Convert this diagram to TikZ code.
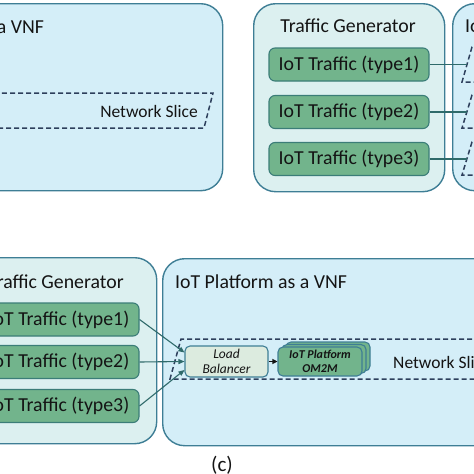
\documentclass[tikz,border=0pt]{standalone}
\usepackage{fontspec}
\setmainfont{Carlito}
\usetikzlibrary{arrows.meta}
\definecolor{vnf}{HTML}{D4EEF8}
\definecolor{tg}{HTML}{DCF0F0}
\definecolor{pborder}{HTML}{3E7E95}
\definecolor{itfill}{HTML}{72B48C}
\definecolor{itborder}{HTML}{3B7D78}
\definecolor{lbfill}{HTML}{DCEBDF}
\definecolor{slicec}{HTML}{2D3F5C}
\definecolor{conn}{HTML}{2F6A6A}
\definecolor{txt}{HTML}{141414}
\begin{document}
\begin{tikzpicture}[x=1pt,y=-1pt,
  panel/.style={draw=pborder, line width=1.4pt, rounded corners=22pt, inner sep=0pt, anchor=north west},
  ptitle/.style={font=\fontsize{19.8}{22}\selectfont, text=txt, inner sep=0pt},
  itbox/.style={draw=itborder, fill=itfill, line width=1.1pt, rounded corners=6pt, minimum width=160pt, minimum height=33pt, inner sep=0pt, font=\fontsize{19.8}{22}\selectfont, text=txt},
  slice/.style={draw=slicec, line width=1.5pt, dash pattern=on 5pt off 3pt},
  slicetext/.style={font=\fontsize{17.5}{20}\selectfont, text=txt, inner sep=0pt},
  line/.style={draw=conn, line width=1.1pt},
  arr/.style={draw=conn, line width=1.1pt, -{Triangle[length=6pt,width=5pt]}},
  lbbox/.style={draw=pborder, fill=lbfill, line width=1.1pt, rounded corners=5pt, minimum width=83pt, minimum height=31pt, inner sep=0pt, align=center, font=\fontsize{13.5}{15}\selectfont\itshape, text=txt},
  ombox/.style={draw=pborder, fill=itfill, line width=1.1pt, rounded corners=5pt, minimum width=84pt, minimum height=29pt, inner sep=0pt, align=center, font=\fontsize{12}{13.5}\selectfont\bfseries\itshape, text=txt}
]
\useasboundingbox (0,0) rectangle (474,474);
\clip (0,0) rectangle (474,474);

% ---------- top row ----------
% left panel (IoT Platform as a VNF)
\node[panel, fill=vnf, minimum width=358pt, minimum height=187pt] (vnfA) at (-136,3) {};
\node[ptitle, anchor=west] (vnfAt) at (-128,27) {IoT Platform as a VNF};
\draw[slice] (-150,93) -- (213,93) -- (204,128) -- (-150,128);
\node[slicetext, anchor=east] (sliceAt) at (198,111) {Network Slice};

% traffic generator panel
\node[panel, fill=tg, minimum width=191pt, minimum height=188pt] (tgB) at (253,3) {};
\node[ptitle] (tgBt) at (348,26) {Traffic Generator};
\node[itbox] (tb1) at (349,64.5) {IoT Traffic (type1)};
\node[itbox] (tb2) at (349,112) {IoT Traffic (type2)};
\node[itbox] (tb3) at (349,159) {IoT Traffic (type3)};

% right panel (partial)
\node[panel, fill=vnf, minimum width=358pt, minimum height=187pt] (vnfC) at (452,3) {};
\node[ptitle, anchor=west] (vnfCt) at (465,26) {IoT Platform as a VNF};
\foreach \t/\b in {47/82, 95/128, 142/175}{
  \draw[slice] (520,\t) -- (472,\t) -- (462,\b) -- (520,\b);
}
\coordinate (c1) at (467,64.5);
\coordinate (c2) at (467,112);
\coordinate (c3) at (467,159);
\draw[line] (tb1.east) -- (c1);
\draw[line] (tb2.east) -- (c2);
\draw[line] (tb3.east) -- (c3);

% ---------- bottom row ----------
\node[panel, fill=tg, minimum width=191pt, minimum height=186pt] (tgD) at (-35,257) {};
\node[ptitle] (tgDt) at (56,282) {Traffic Generator};
\node[itbox] (td1) at (59,319.5) {IoT Traffic (type1)};
\node[itbox] (td2) at (59,362) {IoT Traffic (type2)};
\node[itbox] (td3) at (59,406) {IoT Traffic (type3)};

\node[panel, fill=vnf, minimum width=358pt, minimum height=187pt] (vnfE) at (162,258) {};
\node[ptitle, anchor=west] (vnfEt) at (175,282) {IoT Platform as a VNF};
\draw[slice] (520,339) -- (181,339) -- (170,379) -- (520,379);
\node[slicetext, anchor=west] (sliceEt) at (393,362) {Network Slice};

\node[lbbox] (lb) at (226.5,361.5) {Load\\Balancer};
\node[ombox] (om3) at (328,356.5) {};
\node[ombox] (om2) at (324,359) {};
\node[ombox] (om1) at (320,361.5) {IoT Platform\\OM2M};

\draw[arr] (td1.east) -- ([yshift=9pt]lb.west);
\draw[arr] (td2.east) -- (lb.west);
\draw[arr] (td3.east) -- ([yshift=-8.5pt]lb.west);
\draw[line, draw=txt, -{Triangle[length=5pt,width=5pt]}] (lb.east) -- (om1.west);

\node[font=\fontsize{21}{24}\selectfont, text=txt, inner sep=0pt] (cap) at (222,465) {(c)};
\end{tikzpicture}
\end{document}
